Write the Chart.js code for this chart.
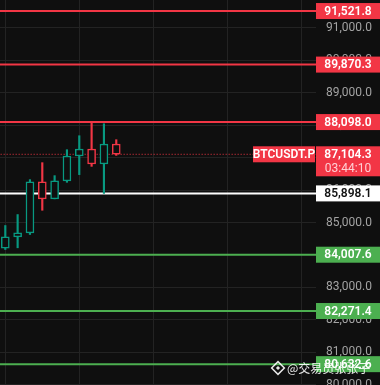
<!DOCTYPE html>
<html><head><meta charset="utf-8">
<script src="https://cdn.jsdelivr.net/npm/chart.js@4/dist/chart.umd.min.js"></script>
<style>
html,body{margin:0;padding:0;background:#0f0f0f;}
#wrap{width:380px;height:385px;}
</style></head>
<body><div id="wrap"><canvas id="c" width="380" height="385"></canvas></div>
<script>
// ---- data ----
const candleIndex = [0,1,2,3,4,5,6,7,8,9];
const opens  = [84209, 84560, 84683, 86252, 85729, 86283, 87052, 87268, 86806, 87422];
const highs  = [84908, 85246, 86323, 86846, 86446, 87246, 87677, 88098, 88046, 87554];
const lows   = [84169, 84221, 84631, 85378, 85729, 86240, 86477, 86732, 85898, 87071];
const closes = [84560, 84683, 86252, 85729, 86283, 87052, 87268, 86806, 87422, 87104.3];
const redLevels   = [91521.8, 89870.3, 88098.0];
const whiteLevels = [85898.1];
const greenLevels = [84007.6, 82271.4, 80632.6];
const lastPrice = 87104.3;
const symbol = 'BTCUSDT.P';
const countdown = '03:44:10';
const yTicks = [80000,81000,82000,83000,84000,85000,86000,87000,88000,89000,90000,91000];
const xGrid = [0,6,12,18,24];
const watermark = '@交易员张张子';

const RED='#f23645', TEAL='#089981', GREEN='#4caf50', WHITE='#ffffff', BG='#0f0f0f';
const fmt = v => v.toLocaleString('en-US',{minimumFractionDigits:1,maximumFractionDigits:1});
const colOf = i => closes[i] >= opens[i] ? TEAL : RED;

const bodies = candleIndex.map(i => ({x:i, y:[opens[i], closes[i]]}));
const wicks  = candleIndex.map(i => ({x:i, y:[lows[i], highs[i]]}));

const levelDatasets = [];
const addLevels = (arr, color) => arr.forEach(v => levelDatasets.push({
  type:'line', data:[{x:-5,y:v},{x:40,y:v}], borderColor:color, borderWidth:2,
  pointRadius:0, order:5
}));
addLevels(redLevels, RED); addLevels(whiteLevels, WHITE); addLevels(greenLevels, GREEN);
levelDatasets.push({type:'line', data:[{x:-5,y:lastPrice},{x:40,y:lastPrice}], borderColor:RED,
  borderWidth:1, borderDash:[1,2], pointRadius:0, order:6});

const labelsPlugin = {
  id:'labels',
  beforeDraw(chart){
    const c=chart.ctx; c.save(); c.fillStyle=BG; c.fillRect(0,0,chart.width,chart.height); c.restore();
  },
  afterDraw(chart){
    const c=chart.ctx, y=chart.scales.y, ca=chart.chartArea, W=chart.width;
    const box=(x0,x1,yc,h,bg,fg,txt)=>{
      c.fillStyle=bg; c.fillRect(x0,yc-h/2,x1-x0,h);
      c.fillStyle=fg; c.textAlign='center'; c.textBaseline='middle';
      c.fillText(txt,(x0+x1)/2,yc+0.5);
    };
    c.save();
    c.font='600 12px Roboto, "Noto Sans", sans-serif';
    redLevels.forEach(v=>box(ca.right,W,y.getPixelForValue(v),16,RED,'#fff',fmt(v)));
    whiteLevels.forEach(v=>box(ca.right,W,y.getPixelForValue(v),16,'#fff','#131313',fmt(v)));
    greenLevels.forEach(v=>box(ca.right,W,y.getPixelForValue(v),16,GREEN,'#fff',fmt(v)));
    // last price
    const py=y.getPixelForValue(lastPrice);
    c.fillStyle=RED; c.fillRect(ca.right,py-8,W-ca.right,30);
    c.fillStyle='#fff'; c.textAlign='center'; c.textBaseline='middle';
    c.fillText(fmt(lastPrice),(ca.right+W)/2,py+0.5);
    c.fillStyle='#ffd0d4'; c.font='12px Roboto, "Noto Sans", sans-serif';
    c.fillText(countdown,(ca.right+W)/2,py+14.5);
    c.font='600 12px Roboto, "Noto Sans", sans-serif';
    c.fillStyle=RED; c.fillRect(ca.right-63,py-8,62,16);
    c.fillStyle='#fff'; c.fillText(symbol,ca.right-32,py+0.5);
    // watermark
    const wy=368;
    c.globalAlpha=0.9;
    c.fillStyle='#fff';
    c.save(); c.translate(278,wy); c.rotate(Math.PI/4);
    c.fillRect(-1.5,-1.5,3,3);
    c.strokeStyle='#fff'; c.lineWidth=1.5; c.strokeRect(-4.5,-4.5,9,9);
    c.restore();
    c.font='12px "Noto Sans CJK SC", sans-serif'; c.textAlign='left'; c.textBaseline='middle';
    c.fillText(watermark,287,wy);
    c.restore();
  }
};

new Chart(document.getElementById('c'), {
  type:'bar',
  data:{datasets:[
    {data:bodies, backgroundColor:BG, borderColor:candleIndex.map(colOf), borderWidth:1.5,
     barThickness:8, grouped:false, order:1, borderSkipped:false},
    {data:wicks, backgroundColor:candleIndex.map(colOf), borderWidth:0,
     barThickness:1.5, grouped:false, order:2},
    ...levelDatasets
  ]},
  options:{
    responsive:false, animation:false,
    layout:{padding:{left:0,right:8,top:0,bottom:0}},
    plugins:{legend:{display:false}, tooltip:{enabled:false}},
    scales:{
      x:{type:'linear', min:-0.43, max:25.2, position:'bottom', offset:false,
         afterBuildTicks:a=>{a.ticks=xGrid.map(v=>({value:v}));},
         afterFit:a=>{a.height=0; a.paddingLeft=0; a.paddingRight=0;},
         ticks:{display:false}, border:{display:false},
         grid:{color:'#232323', drawTicks:false, lineWidth:1, offset:false}},
      y:{position:'right', min:79990, max:91862,
         afterBuildTicks:a=>{a.ticks=yTicks.map(v=>({value:v}));},
         afterFit:a=>{a.width=56; a.paddingTop=0; a.paddingBottom=0;},
         ticks:{callback:v=>fmt(v), color:'#a3a3a3', font:{size:12, family:'Roboto, "Noto Sans", sans-serif'},
                crossAlign:'far', padding:0},
         border:{display:false},
         grid:{color:'#232323', drawTicks:false, lineWidth:1}}
    }
  },
  plugins:[labelsPlugin]
});
</script></body></html>
